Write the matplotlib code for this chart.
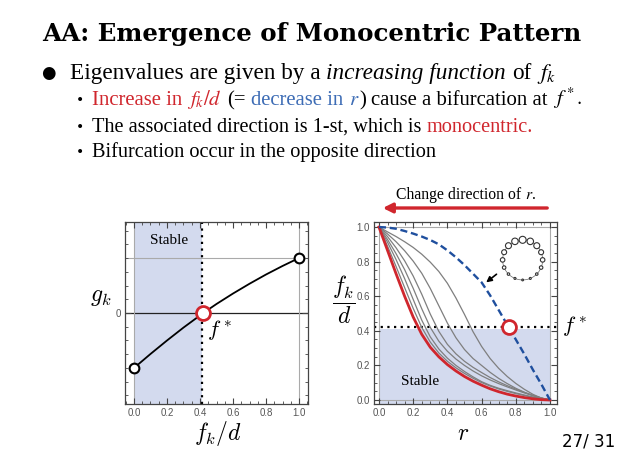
import numpy as np
import matplotlib
matplotlib.use("Agg")
import matplotlib.pyplot as plt
from matplotlib.patches import FancyArrowPatch

W, H, DPI = 638, 451, 100
SERIF = "Liberation Serif"
RED = "#d0262d"
BLUE = "#3d6cb5"
SHADE = "#d3daee"
TICKC = "#555555"

# ---- data ----
f_star = 0.42

# left panel: g_k against f_k/d
fk_left = [0.0, 0.1, 0.2, 0.3, 0.42, 0.5, 0.6, 0.7, 0.8, 0.9, 1.0]
g_left = [-1.0, -0.745, -0.50, -0.265, 0.0, 0.164, 0.354, 0.532, 0.70, 0.855, 1.0]

# right panel: f_k/d against r
r_vals = np.linspace(0, 1, 21)
fk_blue = [1.0, 0.997, 0.99, 0.977, 0.962, 0.945, 0.925, 0.90, 0.865, 0.825, 0.78,
           0.73, 0.68, 0.605, 0.52, 0.435, 0.35, 0.265, 0.175, 0.09, 0.0]
fk_red = [1.0, 0.865, 0.73, 0.60, 0.48, 0.38, 0.305, 0.25, 0.205, 0.168, 0.136,
          0.109, 0.086, 0.065, 0.048, 0.034, 0.023, 0.014, 0.007, 0.002, 0.0]
fk_g1 = [1.0, 0.89, 0.772, 0.65, 0.53, 0.42, 0.335, 0.272, 0.224, 0.186, 0.154,
         0.126, 0.101, 0.081, 0.064, 0.05, 0.037, 0.026, 0.016, 0.007, 0.0]
fk_g2 = [1.0, 0.912, 0.812, 0.702, 0.582, 0.462, 0.365, 0.295, 0.242, 0.20, 0.165,
         0.134, 0.106, 0.085, 0.068, 0.054, 0.041, 0.029, 0.017, 0.007, 0.0]
fk_g3 = [1.0, 0.928, 0.846, 0.754, 0.646, 0.528, 0.42, 0.34, 0.282, 0.237, 0.20,
         0.168, 0.14, 0.116, 0.095, 0.076, 0.058, 0.041, 0.025, 0.011, 0.0]
fk_g4 = [1.0, 0.945, 0.88, 0.805, 0.717, 0.612, 0.497, 0.397, 0.322, 0.267, 0.224,
         0.189, 0.159, 0.13, 0.105, 0.083, 0.063, 0.044, 0.027, 0.012, 0.0]
fk_g5 = [1.0, 0.96, 0.915, 0.863, 0.803, 0.733, 0.645, 0.545, 0.445, 0.36, 0.292,
         0.24, 0.20, 0.16, 0.125, 0.095, 0.068, 0.045, 0.026, 0.011, 0.0]
fk_g6 = [1.0, 0.972, 0.945, 0.915, 0.882, 0.843, 0.797, 0.743, 0.675, 0.59, 0.495,
         0.395, 0.31, 0.24, 0.183, 0.136, 0.096, 0.062, 0.033, 0.011, 0.0]
gray_curves = [fk_g1, fk_g2, fk_g3, fk_g4, fk_g5, fk_g6]

# ring icon: marker diameters (px), from the top going clockwise
ring_sizes = [7, 6.5, 6, 5, 4.5, 3.5, 2.5, 2, 1.8, 2, 2.5, 3.5, 4.5, 5, 6, 6.5]

fig = plt.figure(figsize=(W / DPI, H / DPI), dpi=DPI)
rend = fig.canvas.get_renderer()


def write_line(x0, base, pieces, size, x_end=None, family=SERIF, weight="normal"):
    def place(sz):
        arts, x = [], x0
        sp = 0.25 * sz * DPI / 72
        for i, (s, col, style, gap) in enumerate(pieces):
            if i and gap:
                x += sp
            t = fig.text(x / W, 1 - base / H, s, color=col, fontsize=sz, family=family,
                         style=style, weight=weight, va="baseline", ha="left",
                         math_fontfamily="stix")
            x += t.get_window_extent(rend).width
            arts.append(t)
        return arts, x
    arts, x = place(size)
    if x_end is not None:
        for a in arts:
            a.remove()
        arts, x = place(size * (x_end - x0) / (x - x0))
    return arts


# ---- slide text ----
write_line(42, 41, [("AA: Emergence of Monocentric Pattern", "k", "normal", 0)], 19,
           x_end=582, family="DejaVu Serif", weight="bold")

fig.text(48 / W, 1 - 73 / H, "\u25cf", fontsize=12, ha="center", va="center", family="DejaVu Sans")
write_line(70, 79, [("Eigenvalues are given by a", "k", "normal", 0),
                    ("increasing function", "k", "italic", 1),
                    ("of", "k", "normal", 1),
                    ("$f_k$", "k", "normal", 1)], 16, x_end=556)

for yc in (100, 127, 152):
    fig.text(80 / W, 1 - yc / H, "\u2022", fontsize=10, ha="center", va="center", family="DejaVu Sans")
write_line(92, 105, [("Increase in", RED, "normal", 0), ("$f_k/d$", RED, "normal", 1),
                     ("(=", "k", "normal", 1), ("decrease in", BLUE, "normal", 1),
                     ("$r$", BLUE, "normal", 1), (")", "k", "normal", 0),
                     ("cause a bifurcation at", "k", "normal", 1),
                     ("$f^*.$", "k", "normal", 1)], 13, x_end=583)
write_line(92, 132, [("The associated direction is 1-st, which is", "k", "normal", 0),
                     ("monocentric.", RED, "normal", 1)], 13, x_end=530)
write_line(92, 157, [("Bifurcation occur in the opposite direction", "k", "normal", 0)], 13, x_end=434)

write_line(396, 199, [("Change direction of", "k", "normal", 0), ("$r$.", "k", "normal", 1)],
           11, x_end=536)
fig.patches.append(FancyArrowPatch((550 / W, 1 - 208 / H), (380 / W, 1 - 208 / H),
                                   transform=fig.transFigure, arrowstyle="-|>",
                                   mutation_scale=14, color=RED, lw=2.4))

fig.text(615 / W, 1 - 441 / H, "27/ 31", fontsize=12, ha="right", va="center", family="DejaVu Sans")


def style_axes(ax):
    for s in ax.spines.values():
        s.set_color("#444444")
        s.set_linewidth(0.9)
    ax.tick_params(which="both", direction="in", top=True, right=True,
                   labelsize=7, labelcolor=TICKC, color="#444444", pad=3)
    ax.tick_params(which="major", length=4)
    ax.tick_params(which="minor", length=2)
    for lab in ax.get_xticklabels() + ax.get_yticklabels():
        lab.set_family("Liberation Sans")


# ---- left panel ----
axL = fig.add_axes([125 / W, (H - 404) / H, 183 / W, 182 / H])
axL.set_xlim(-0.0545, 1.0545)
axL.set_ylim(-1.655, 1.655)
axL.axvspan(0, f_star - 0.005, color=SHADE, lw=0, zorder=0)
axL.axhline(1, color="#aaaaaa", lw=0.8, zorder=1)
axL.axhline(0, color="#222222", lw=0.9, zorder=1)
axL.axvline(0, color="#aaaaaa", lw=0.8, zorder=1)
axL.axvline(1, color="#aaaaaa", lw=0.8, zorder=1)
axL.axvline(f_star - 0.005, color="k", ls=(0, (1, 2)), lw=1.6, zorder=2)
axL.plot(fk_left, g_left, color="k", lw=1.3, zorder=3)
axL.plot([fk_left[0], fk_left[-1]], [g_left[0], g_left[-1]], "o", mfc="white",
         mec="k", ms=7, mew=1.5, zorder=4)
axL.plot([f_star], [0], "o", mfc="white", mec=RED, ms=10, mew=2, zorder=5)
axL.text(0.21, 1.31, "Stable", fontsize=11, family=SERIF, ha="center", va="center")
axL.text(0.52, -0.33, "$f^*$", fontsize=16, math_fontfamily="cm", ha="center", va="center")
axL.set_xticks(np.arange(0, 1.01, 0.2))
axL.set_xticklabels(["0.0", "0.2", "0.4", "0.6", "0.8", "1.0"])
axL.set_xticks(np.arange(-0.05, 1.06, 0.05), minor=True)
axL.set_yticks([0])
axL.set_yticklabels(["0"])
axL.set_yticks(np.arange(-1.5, 1.51, 0.25), minor=True)
style_axes(axL)
fig.text(101 / W, 1 - 296 / H, "$g_k$", fontsize=17, math_fontfamily="cm", ha="center", va="center")
fig.text(218 / W, 1 - 433 / H, "$f_k/d$", fontsize=17, math_fontfamily="cm", ha="center", va="center")

# ---- right panel ----
axR = fig.add_axes([374 / W, (H - 404) / H, 183 / W, 182 / H])
axR.set_xlim(-0.029, 1.041)
axR.set_ylim(-0.023, 1.029)
axR.fill_between([0, 1], -0.023, f_star - 0.008, color=SHADE, lw=0, zorder=0)
axR.axhline(1, color="#aaaaaa", lw=0.8, zorder=1)
axR.axhline(0, color="#aaaaaa", lw=0.8, zorder=1)
axR.axvline(0, color="#aaaaaa", lw=0.8, zorder=1)
axR.axvline(1, color="#aaaaaa", lw=0.8, zorder=1)
axR.axhline(f_star, color="k", ls=(0, (1, 2)), lw=1.6, zorder=2)
for g in gray_curves:
    axR.plot(r_vals, g, color="#7f7f7f", lw=0.9, zorder=3)
axR.plot(r_vals, fk_red, color=RED, lw=2.0, zorder=4)
axR.plot(r_vals, fk_blue, color="#1f4f9e", lw=1.7, ls=(0, (3, 1.6)), zorder=4)
axR.plot([0.76], [f_star], "o", mfc="white", mec=RED, ms=10, mew=2, zorder=6)
axR.text(0.24, 0.105, "Stable", fontsize=11, family=SERIF, ha="center", va="center")
axR.annotate("", xy=(0.614, 0.67), xytext=(0.70, 0.737),
             arrowprops=dict(arrowstyle="-|>", color="k", lw=1.2, mutation_scale=8))

# ring icon
ang = np.pi / 2 - np.arange(len(ring_sizes)) * 2 * np.pi / len(ring_sizes)
cx, cy, rx, ry = 0.84, 0.81, 0.117, 0.116
t = np.linspace(0, 2 * np.pi, 200)
axR.plot(cx + rx * np.cos(t), cy + ry * np.sin(t), color="#666666", lw=0.5, zorder=5)
axR.scatter(cx + rx * np.cos(ang), cy + ry * np.sin(ang),
            s=(np.array(ring_sizes) * 72 / DPI) ** 2, facecolors="white",
            edgecolors="#333333", linewidths=0.8, zorder=6)

axR.set_xticks(np.arange(0, 1.01, 0.2))
axR.set_xticklabels(["0.0", "0.2", "0.4", "0.6", "0.8", "1.0"])
axR.set_xticks(np.arange(0, 1.01, 0.05), minor=True)
axR.set_yticks(np.arange(0, 1.01, 0.2))
axR.set_yticklabels(["0.0", "0.2", "0.4", "0.6", "0.8", "1.0"])
axR.set_yticks(np.arange(0, 1.01, 0.05), minor=True)
style_axes(axR)
fig.text(344 / W, 1 - 300 / H, r"$\dfrac{f_k}{d}$", fontsize=17, math_fontfamily="cm",
         ha="center", va="center")
fig.text(463 / W, 1 - 433 / H, "$r$", fontsize=17, math_fontfamily="cm", ha="center", va="center")
fig.text(574 / W, 1 - 327 / H, "$f^*$", fontsize=16, math_fontfamily="cm", ha="center", va="center")

fig.savefig("out.png", dpi=DPI)
